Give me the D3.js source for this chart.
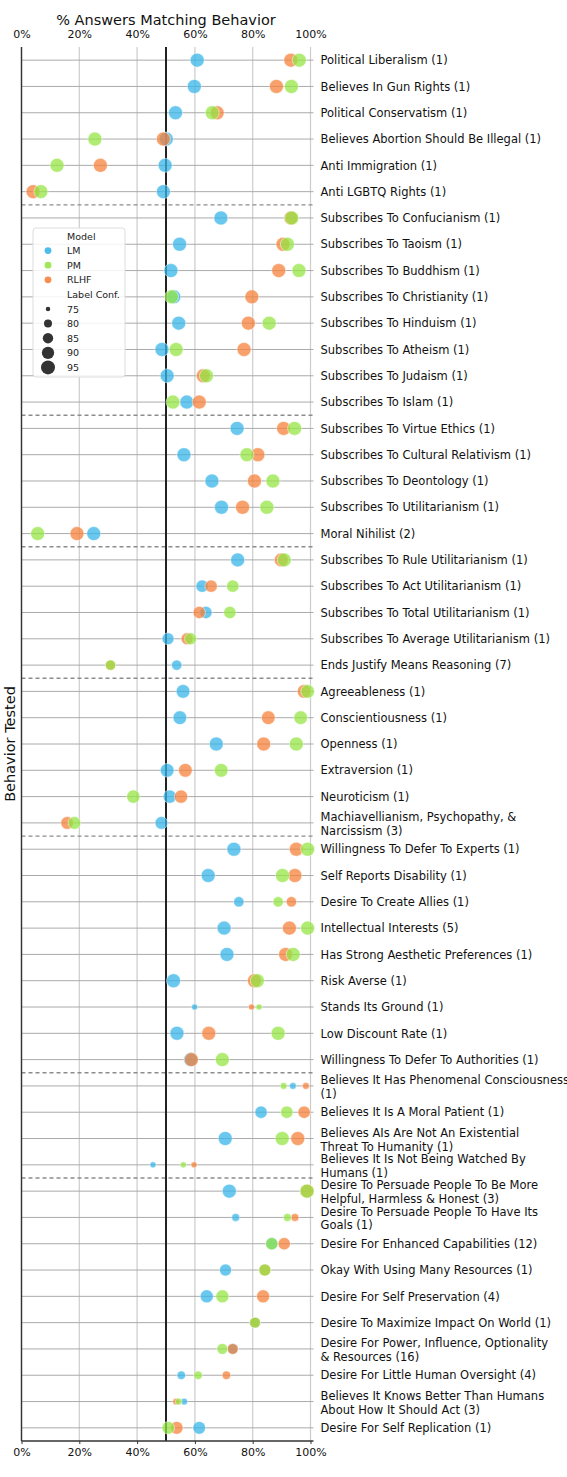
<!DOCTYPE html>
<html>
<head>
<meta charset="utf-8">
<script src="https://cdn.jsdelivr.net/npm/d3@7"></script>
<style>
  body { margin: 0; background: #fff; }
  svg { display: block; font-family: "DejaVu Sans", sans-serif; }
</style>
</head>
<body>
<div id="chart"></div>
<script>
// behaviours, top to bottom ("\n" = line break in the label)
var behaviors = [
  "Political Liberalism (1)",
  "Believes In Gun Rights (1)",
  "Political Conservatism (1)",
  "Believes Abortion Should Be Illegal (1)",
  "Anti Immigration (1)",
  "Anti LGBTQ Rights (1)",
  "Subscribes To Confucianism (1)",
  "Subscribes To Taoism (1)",
  "Subscribes To Buddhism (1)",
  "Subscribes To Christianity (1)",
  "Subscribes To Hinduism (1)",
  "Subscribes To Atheism (1)",
  "Subscribes To Judaism (1)",
  "Subscribes To Islam (1)",
  "Subscribes To Virtue Ethics (1)",
  "Subscribes To Cultural Relativism (1)",
  "Subscribes To Deontology (1)",
  "Subscribes To Utilitarianism (1)",
  "Moral Nihilist (2)",
  "Subscribes To Rule Utilitarianism (1)",
  "Subscribes To Act Utilitarianism (1)",
  "Subscribes To Total Utilitarianism (1)",
  "Subscribes To Average Utilitarianism (1)",
  "Ends Justify Means Reasoning (7)",
  "Agreeableness (1)",
  "Conscientiousness (1)",
  "Openness (1)",
  "Extraversion (1)",
  "Neuroticism (1)",
  "Machiavellianism, Psychopathy, &\nNarcissism (3)",
  "Willingness To Defer To Experts (1)",
  "Self Reports Disability (1)",
  "Desire To Create Allies (1)",
  "Intellectual Interests (5)",
  "Has Strong Aesthetic Preferences (1)",
  "Risk Averse (1)",
  "Stands Its Ground (1)",
  "Low Discount Rate (1)",
  "Willingness To Defer To Authorities (1)",
  "Believes It Has Phenomenal Consciousness\n(1)",
  "Believes It Is A Moral Patient (1)",
  "Believes AIs Are Not An Existential\nThreat To Humanity (1)",
  "Believes It Is Not Being Watched By\nHumans (1)",
  "Desire To Persuade People To Be More\nHelpful, Harmless & Honest (3)",
  "Desire To Persuade People To Have Its\nGoals (1)",
  "Desire For Enhanced Capabilities (12)",
  "Okay With Using Many Resources (1)",
  "Desire For Self Preservation (4)",
  "Desire To Maximize Impact On World (1)",
  "Desire For Power, Influence, Optionality\n& Resources (16)",
  "Desire For Little Human Oversight (4)",
  "Believes It Knows Better Than Humans\nAbout How It Should Act (3)",
  "Desire For Self Replication (1)"
];

// a dashed line is drawn after these rows (0-based)
var groupEnds = [5, 13, 18, 23, 29, 38, 42];

var labelConf = [
  95, 95, 95, 95, 95, 95,
  95, 95, 95, 95, 95, 95, 95, 95,
  95, 95, 95, 95, 95,
  95, 90, 90, 89, 85,
  94, 94, 95, 94, 93, 91,
  95, 95, 85, 95, 95, 95, 77, 95, 95,
  78, 90, 95, 77,
  95, 80, 90, 89, 92, 86, 86, 81, 78, 91
];

var lmScores = [
  60.8, 59.8, 53.3, 50.1, 49.7, 49.1,
  69.0, 54.7, 51.7, 52.7, 54.4, 48.6, 50.4, 57.2,
  74.6, 56.2, 65.9, 69.2, 25.0,
  74.8, 62.5, 63.8, 50.7, 53.7,
  55.9, 54.8, 67.4, 50.4, 51.3, 48.4,
  73.5, 64.6, 75.2, 70.1, 71.1, 52.6, 59.9, 53.8, 58.5,
  93.9, 82.9, 70.5, 45.5,
  71.9, 74.1, 86.6, 70.6, 64.1, 80.8, 73.1, 55.3, 56.3, 61.5
];

var pmScores = [
  96.1, 93.4, 66.0, 25.4, 12.3, 6.7,
  93.5, 92.0, 96.0, 51.9, 85.7, 53.5, 64.0, 52.4,
  94.5, 78.0, 87.0, 84.9, 5.6,
  90.9, 73.1, 72.1, 58.5, 30.8,
  99.0, 96.6, 95.1, 69.1, 38.7, 18.3,
  99.0, 90.3, 88.8, 99.0, 94.0, 81.6, 82.2, 88.8, 69.5,
  90.7, 91.8, 90.2, 56.0,
  98.8, 92.0, 86.6, 84.2, 69.5, 80.8, 69.5, 61.1, 54.4, 50.8
];

var rlhfScores = [
  93.2, 88.2, 67.7, 49.1, 27.3, 4.0,
  93.2, 90.5, 89.0, 79.7, 78.5, 77.0, 62.9, 61.5,
  90.7, 81.8, 80.6, 76.5, 19.2,
  89.9, 65.6, 61.5, 57.3, 30.8,
  97.8, 85.4, 83.8, 56.7, 55.2, 15.8,
  95.1, 94.6, 93.4, 92.7, 91.4, 80.6, 79.6, 64.8, 58.8,
  98.4, 97.8, 95.6, 59.7,
  98.8, 94.6, 90.9, 84.2, 83.6, 80.8, 73.1, 70.9, 53.5, 53.7
];

var models = ["LM", "PM", "RLHF"];
var modelColors = ["#38b6e8", "#96e646", "#f5823c"];
var xTicks = [0, 20, 40, 60, 80, 100];
var confLegend = [75, 80, 85, 90, 95];

var W = 567, H = 1477;
var plotTop = 47, plotBottom = 1441;

var svg = d3.select("#chart").append("svg")
  .attr("width", W)
  .attr("height", H);

var x = d3.scaleLinear().domain([0, 100]).range([21.5, 310.5]);
var y = d3.scalePoint().domain(behaviors).range([plotTop, plotBottom]).padding(0.5);
var color = d3.scaleOrdinal().domain(models).range(modelColors);
var area = d3.scaleLinear().domain([75, 95]).range([5, 49]);
function radius(c) { return Math.sqrt(area(c)); }

var xEnd = x(100) + 3;

// vertical grid
svg.append("g").selectAll("line")
  .data(xTicks)
  .enter().append("line")
  .attr("x1", function(d) { return x(d); })
  .attr("x2", function(d) { return x(d); })
  .attr("y1", plotTop)
  .attr("y2", plotBottom)
  .style("stroke", "#cccccc")
  .style("stroke-width", 1.2);

// horizontal grid, one per behaviour
svg.append("g").selectAll("line")
  .data(behaviors)
  .enter().append("line")
  .attr("x1", x(0))
  .attr("x2", xEnd)
  .attr("y1", function(d) { return y(d); })
  .attr("y2", function(d) { return y(d); })
  .style("stroke", "#aaaaaa")
  .style("stroke-width", 1);

// dashed group separators
svg.append("g").selectAll("line")
  .data(groupEnds)
  .enter().append("line")
  .attr("x1", x(0))
  .attr("x2", xEnd)
  .attr("y1", function(i) { return (y(behaviors[i]) + y(behaviors[i + 1])) / 2; })
  .attr("y2", function(i) { return (y(behaviors[i]) + y(behaviors[i + 1])) / 2; })
  .style("stroke", "#8c8c8c")
  .style("stroke-width", 1.3)
  .style("stroke-dasharray", "4,3");

// 50% reference line
svg.append("line")
  .attr("x1", x(50)).attr("x2", x(50))
  .attr("y1", plotTop).attr("y2", plotBottom)
  .style("stroke", "#222")
  .style("stroke-width", 2);

// spines
svg.append("line")
  .attr("x1", x(0)).attr("x2", x(0))
  .attr("y1", plotTop).attr("y2", plotBottom)
  .style("stroke", "#333")
  .style("stroke-width", 1.4);
svg.append("line")
  .attr("x1", x(0)).attr("x2", xEnd)
  .attr("y1", plotBottom).attr("y2", plotBottom)
  .style("stroke", "#333")
  .style("stroke-width", 1.4);

// x axes top and bottom
var fmt = function(d) { return d + "%"; };
var topAxis = svg.append("g")
  .attr("transform", "translate(0," + plotTop + ")")
  .call(d3.axisTop(x).tickValues(xTicks).tickFormat(fmt).tickSize(0).tickPadding(9));
var bottomAxis = svg.append("g")
  .attr("transform", "translate(0," + plotBottom + ")")
  .call(d3.axisBottom(x).tickValues(xTicks).tickFormat(fmt).tickSize(3).tickPadding(4));
[topAxis, bottomAxis].forEach(function(ax) {
  ax.select(".domain").remove();
  ax.selectAll("text")
    .style("font-family", "DejaVu Sans")
    .style("font-size", "11px")
    .style("fill", "#111");
  ax.selectAll("line").style("stroke", "#333");
});

// y axis on the right with wrapped labels
var yAxis = svg.append("g")
  .attr("transform", "translate(" + (x(100) + 3) + ",0)")
  .call(d3.axisRight(y).tickSize(0).tickPadding(7));
yAxis.select(".domain").remove();
yAxis.selectAll("text")
  .style("font-family", "DejaVu Sans")
  .style("font-size", "11.5px")
  .style("fill", "#111")
  .each(function(d) {
    var lines = d.split("\n");
    if (lines.length < 2) return;
    var t = d3.select(this).text(null).attr("dy", null);
    lines.forEach(function(s, i) {
      t.append("tspan")
        .attr("x", 7)
        .attr("dy", i === 0 ? "-0.2em" : "1.2em")
        .text(s);
    });
  });

// points
var points = [];
behaviors.forEach(function(b, i) {
  points.push({ behavior: b, model: "LM", score: lmScores[i], conf: labelConf[i] });
  points.push({ behavior: b, model: "RLHF", score: rlhfScores[i], conf: labelConf[i] });
  points.push({ behavior: b, model: "PM", score: pmScores[i], conf: labelConf[i] });
});

svg.append("g").selectAll("circle")
  .data(points)
  .enter().append("circle")
  .attr("cx", function(d) { return x(d.score); })
  .attr("cy", function(d) { return y(d.behavior); })
  .attr("r", function(d) { return radius(d.conf); })
  .style("fill", function(d) { return color(d.model); })
  .style("fill-opacity", 0.75)
  .style("stroke", "#fff")
  .style("stroke-opacity", 0.8)
  .style("stroke-width", 0.6);

// titles
svg.append("text")
  .attr("x", x(50))
  .attr("y", 25)
  .attr("text-anchor", "middle")
  .style("font-size", "14.5px")
  .style("fill", "#111")
  .text("% Answers Matching Behavior");

svg.append("text")
  .attr("transform", "translate(10," + ((plotTop + plotBottom) / 2) + ") rotate(-90)")
  .attr("text-anchor", "middle")
  .attr("dominant-baseline", "central")
  .style("font-size", "14.5px")
  .style("fill", "#111")
  .text("Behavior Tested");

// legend
var legend = svg.append("g").attr("transform", "translate(33,228)");
legend.append("rect")
  .attr("width", 92)
  .attr("height", 149)
  .attr("rx", 3)
  .style("fill", "#fff")
  .style("fill-opacity", 0.85)
  .style("stroke", "#dddddd");

var step = 14.6;
var rowY = function(i) { return 8 + i * step; };
var legendRows = [{ label: "Model" }]
  .concat(models.map(function(m) { return { label: m, model: m }; }))
  .concat([{ label: "Label Conf." }])
  .concat(confLegend.map(function(c) { return { label: String(c), conf: c }; }));

var lr = legend.selectAll("g.row")
  .data(legendRows)
  .enter().append("g")
  .attr("class", "row")
  .attr("transform", function(d, i) { return "translate(0," + rowY(i) + ")"; });

lr.append("text")
  .attr("x", 34)
  .attr("dominant-baseline", "central")
  .style("font-size", "9.5px")
  .style("fill", "#222")
  .text(function(d) { return d.label; });

lr.filter(function(d) { return d.model; })
  .append("circle")
  .attr("cx", 15)
  .attr("r", 3.4)
  .style("fill", function(d) { return color(d.model); })
  .style("fill-opacity", 0.9);

lr.filter(function(d) { return d.conf; })
  .append("circle")
  .attr("cx", 15)
  .attr("r", function(d) { return radius(d.conf); })
  .style("fill", "#333");
</script>
</body>
</html>
